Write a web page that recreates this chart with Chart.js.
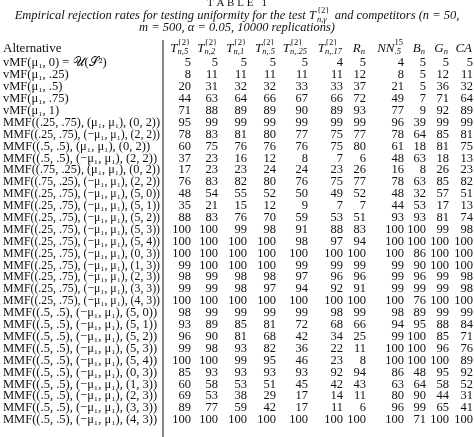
<!DOCTYPE html>
<html><head><meta charset="utf-8">
<script src="https://cdn.jsdelivr.net/npm/chart.js@4"></script>
<style>html,body{margin:0;padding:0;background:#fff}#w{width:474px;height:437px}</style>
</head><body><div id="w"><canvas id="c"></canvas></div>
<script>
const rowLabels = [
"vMF(μ₁, 0) = 𝒰(𝒮²)","vMF(μ₁, .25)","vMF(μ₁, .5)","vMF(μ₁, .75)","vMF(μ₁, 1)",
"MMF((.25, .75), (μ₁, μ₁), (0, 2))","MMF((.25, .75), (−μ₁, μ₁), (2, 2))",
"MMF((.5, .5), (μ₁, μ₁), (0, 2))","MMF((.5, .5), (−μ₁, μ₁), (2, 2))",
"MMF((.75, .25), (μ₁, μ₁), (0, 2))","MMF((.75, .25), (−μ₁, μ₁), (2, 2))",
"MMF((.25, .75), (−μ₁, μ₁), (5, 0))","MMF((.25, .75), (−μ₁, μ₁), (5, 1))","MMF((.25, .75), (−μ₁, μ₁), (5, 2))",
"MMF((.25, .75), (−μ₁, μ₁), (5, 3))","MMF((.25, .75), (−μ₁, μ₁), (5, 4))","MMF((.25, .75), (−μ₁, μ₁), (0, 3))",
"MMF((.25, .75), (−μ₁, μ₁), (1, 3))","MMF((.25, .75), (−μ₁, μ₁), (2, 3))","MMF((.25, .75), (−μ₁, μ₁), (3, 3))",
"MMF((.25, .75), (−μ₁, μ₁), (4, 3))",
"MMF((.5, .5), (−μ₁, μ₁), (5, 0))","MMF((.5, .5), (−μ₁, μ₁), (5, 1))","MMF((.5, .5), (−μ₁, μ₁), (5, 2))",
"MMF((.5, .5), (−μ₁, μ₁), (5, 3))","MMF((.5, .5), (−μ₁, μ₁), (5, 4))","MMF((.5, .5), (−μ₁, μ₁), (0, 3))",
"MMF((.5, .5), (−μ₁, μ₁), (1, 3))","MMF((.5, .5), (−μ₁, μ₁), (2, 3))","MMF((.5, .5), (−μ₁, μ₁), (3, 3))",
"MMF((.5, .5), (−μ₁, μ₁), (4, 3))"];
const columnHeaders = ["T|{2}|n,5","T|{2}|n,2","T|{2}|n,1","T|{2}|n,.5","T|{2}|n,.25","T|{2}|n,.17","R||n","NN|15|.5","B||n","G||n","CA||"];
const values = [
[5,5,5,5,5,4,5,4,5,5,5],
[8,11,11,11,11,11,12,8,5,12,11],
[20,31,32,32,33,33,37,21,5,36,32],
[44,63,64,66,67,66,72,49,7,71,64],
[71,88,89,89,90,89,93,77,9,92,89],
[95,99,99,99,99,99,99,96,39,99,99],
[78,83,81,80,77,75,77,78,64,85,81],
[60,75,76,76,76,75,80,61,18,81,75],
[37,23,16,12,8,7,6,48,63,18,13],
[17,23,23,24,24,23,26,16,8,26,23],
[76,83,82,80,76,75,77,78,63,85,82],
[48,54,55,52,50,49,52,48,32,57,51],
[35,21,15,12,9,7,7,44,53,17,13],
[88,83,76,70,59,53,51,93,93,81,74],
[100,100,99,98,91,88,83,100,100,99,98],
[100,100,100,100,98,97,94,100,100,100,100],
[100,100,100,100,100,100,100,100,86,100,100],
[99,100,100,100,99,99,99,99,90,100,100],
[98,99,98,98,97,96,96,99,96,99,98],
[99,99,98,97,94,92,91,99,99,99,98],
[100,100,100,100,100,100,100,100,76,100,100],
[98,99,99,99,99,98,99,98,89,99,99],
[93,89,85,81,72,68,66,94,95,88,84],
[96,90,81,68,42,34,25,99,100,85,71],
[99,98,93,82,36,22,11,100,100,96,76],
[100,100,99,95,46,23,8,100,100,100,89],
[85,93,93,93,93,92,94,86,48,95,92],
[60,58,53,51,45,42,43,63,64,58,52],
[69,53,38,29,17,14,11,80,90,44,31],
[89,77,59,42,17,11,6,96,99,65,41],
[100,100,100,100,100,100,100,100,71,100,100]];
// layout: right edge of each numeric column (x-scale units)
const colRight = [191,218,247,276,308,343,366,404,426,449,473];

const F = '"Liberation Serif", "DejaVu Serif", serif';
const pts = [];
values.forEach((r,i)=>r.forEach((v,j)=>pts.push({x:colRight[j],y:i,v})));

const tablePlugin = {
  id:'table',
  afterDatasetsDraw(chart){
    const {ctx, scales:{x,y}} = chart;
    ctx.save(); ctx.fillStyle='#111'; ctx.strokeStyle='#111';
    ctx.textBaseline='middle';
    // title
    ctx.textAlign='center';
    ctx.font=`11px ${F}`; ctx.fillText('T A B L E   1',237,y.getPixelForValue(-5.0));
    ctx.font=`italic 12.5px ${F}`;
    const l1a='Empirical rejection rates for testing uniformity for the test T', l1b='      and competitors (n = 50,';
    const wa=ctx.measureText(l1a).width, wb=ctx.measureText(l1b).width;
    const sx=237-(wa+wb)/2, ty=y.getPixelForValue(-4.0);
    ctx.textAlign='left';
    ctx.fillText(l1a,sx,ty); ctx.fillText(l1b,sx+wa,ty);
    ctx.font=`8.5px ${F}`; ctx.fillText('{2}',sx+wa+1,ty-5); ctx.font=`italic 8.5px ${F}`; ctx.fillText('n,γ',sx+wa+1,ty+4);
    ctx.textAlign='center'; ctx.font=`italic 12.5px ${F}`;
    ctx.fillText('m = 500, α = 0.05, 10000 replications)',237,y.getPixelForValue(-3.0));
    // rules
    const yTop=y.getPixelForValue(-1.95), yBot=y.getPixelForValue(31.5);
    ctx.lineWidth=1;
    ctx.beginPath(); ctx.moveTo(x.getPixelForValue(163),yTop); ctx.lineTo(x.getPixelForValue(163),yBot); ctx.stroke();
    // header
    const hy=y.getPixelForValue(-1.25);
    ctx.textAlign='left'; ctx.font=`13px ${F}`;
    ctx.fillText('Alternative',3,hy);
    columnHeaders.forEach((h,j)=>{
      const [b,sup,sub]=h.split('|');
      ctx.font=`italic 13px ${F}`; const bw=ctx.measureText(b).width;
      ctx.font=`8.5px ${F}`; const w2=Math.max(ctx.measureText(sup).width,ctx.measureText(sub).width);
      let x0=x.getPixelForValue(colRight[j])-bw-w2-1;
      ctx.font=`italic 13px ${F}`; ctx.fillText(b,x0,hy);
      ctx.font=`8.5px ${F}`; if(sup) ctx.fillText(sup,x0+bw,hy-5);
      ctx.font=`italic 8.5px ${F}`; if(sub) ctx.fillText(sub,x0+bw,hy+4);
    });
    // row labels
    ctx.font=`12.5px ${F}`;
    rowLabels.forEach((l,i)=>ctx.fillText(l,3,y.getPixelForValue(i),157));
    // cells
    ctx.textAlign='right'; ctx.font=`12.5px ${F}`;
    chart.data.datasets[0].data.forEach(p=>ctx.fillText(String(p.v),x.getPixelForValue(p.x),y.getPixelForValue(p.y)));
    ctx.restore();
  }
};

new Chart(document.getElementById('c'),{
  type:'scatter',
  data:{datasets:[{data:pts,pointRadius:0,pointHoverRadius:0}]},
  options:{responsive:true,maintainAspectRatio:false,animation:false,
    layout:{padding:0},
    plugins:{legend:{display:false},tooltip:{enabled:false}},
    scales:{
      x:{type:'linear',min:0,max:474,display:false},
      y:{type:'linear',min:-5.3,max:31.43,reverse:true,display:false}
    }},
  plugins:[tablePlugin]
});
</script></body></html>
